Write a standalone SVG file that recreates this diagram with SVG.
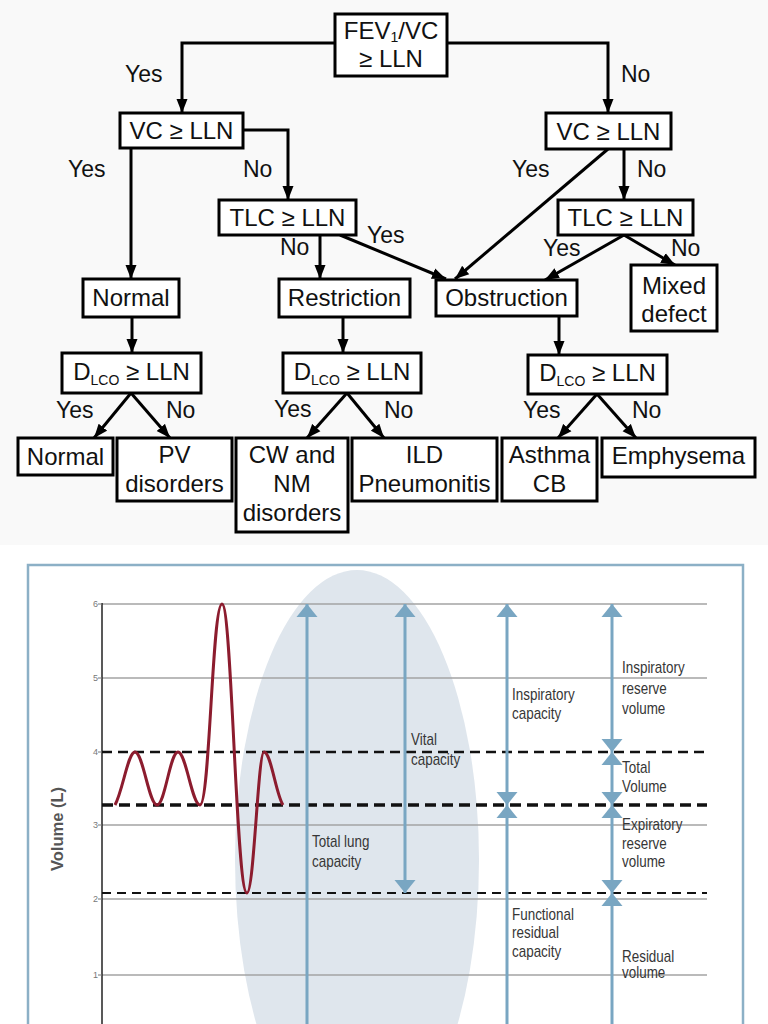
<svg xmlns="http://www.w3.org/2000/svg" width="768" height="1024" viewBox="0 0 768 1024">
<defs>
<marker id="ah" markerUnits="userSpaceOnUse" markerWidth="16" markerHeight="12" refX="14" refY="6" orient="auto">
<path d="M0,0.5 L14,6 L0,11.5 z" fill="#000"/>
</marker>
<marker id="ba" markerUnits="userSpaceOnUse" markerWidth="14" markerHeight="22" refX="13" refY="11" orient="auto-start-reverse">
<path d="M0,0.5 L13,11 L0,21.5 z" fill="#79a6c2"/>
</marker>
<style>
.box{fill:#fff;stroke:#000;stroke-width:3}
.t{font-family:"Liberation Sans",Arial,sans-serif;font-size:24px;fill:#111;text-anchor:middle}
.lb{font-family:"Liberation Sans",Arial,sans-serif;font-size:23px;fill:#111}
.sub{font-size:14px}
.cn{fill:none;stroke:#000;stroke-width:3;marker-end:url(#ah)}
.grid{stroke:#a3a3a3;stroke-width:1.6}
.dash{stroke:#111;fill:none}
.ba{stroke:#79a6c2;stroke-width:3;fill:none}
.cl{font-family:"Liberation Sans",Arial,sans-serif;font-size:16px;fill:#363636}
.tick{font-family:"Liberation Sans",Arial,sans-serif;font-size:9px;fill:#777;text-anchor:end}
</style>
</defs>
<rect x="0" y="0" width="768" height="1024" fill="#fff"/>
<rect x="0" y="0" width="768" height="545" fill="#f9f9f9"/>

<g id="connectors">
<path class="cn" d="M335,43 H182 V113"/>
<path class="cn" d="M447,43 H608 V113"/>
<path class="cn" d="M131,148 V279"/>
<path class="cn" d="M243,130 H288 V200"/>
<path class="cn" d="M320,235 V279"/>
<path class="cn" d="M340,235 L446,279"/>
<path class="cn" d="M608,149 L455,279"/>
<path class="cn" d="M624,149 V200"/>
<path class="cn" d="M624,235 L545,280"/>
<path class="cn" d="M624,235 L675,265"/>
<path class="cn" d="M132,317 V353"/>
<path class="cn" d="M343,317 V353"/>
<path class="cn" d="M559,316 V355"/>
<path class="cn" d="M131,393 L94,438"/>
<path class="cn" d="M131,393 L170,438"/>
<path class="cn" d="M347,393 L307,438"/>
<path class="cn" d="M347,393 L384,438"/>
<path class="cn" d="M597,394 L558,438"/>
<path class="cn" d="M597,394 L636,438"/>
</g>

<g id="labels">
<text class="lb" x="125" y="82">Yes</text>
<text class="lb" x="621" y="82">No</text>
<text class="lb" x="68" y="177">Yes</text>
<text class="lb" x="243" y="177">No</text>
<text class="lb" x="512" y="177">Yes</text>
<text class="lb" x="637" y="177">No</text>
<text class="lb" x="280" y="255">No</text>
<text class="lb" x="367" y="243">Yes</text>
<text class="lb" x="543" y="256">Yes</text>
<text class="lb" x="671" y="256">No</text>
<text class="lb" x="56" y="418">Yes</text>
<text class="lb" x="166" y="418">No</text>
<text class="lb" x="274" y="417">Yes</text>
<text class="lb" x="384" y="418">No</text>
<text class="lb" x="523" y="418">Yes</text>
<text class="lb" x="632" y="418">No</text>
</g>

<g id="n-fev"><rect class="box" x="335" y="14" width="112" height="62"/>
<text class="t" x="391" y="39">FEV<tspan class="sub" dy="3">1</tspan><tspan dy="-3">/VC</tspan></text>
<text class="t" x="391" y="67">≥ LLN</text></g>
<g id="n-vc1"><rect class="box" x="120" y="113" width="123" height="35"/><text class="t" x="181.5" y="139">VC ≥ LLN</text></g>
<g id="n-vc2"><rect class="box" x="546" y="113" width="125" height="36"/><text class="t" x="608.5" y="140">VC ≥ LLN</text></g>
<g id="n-tlc1"><rect class="box" x="219" y="200" width="137" height="35"/><text class="t" x="287.5" y="226">TLC ≥ LLN</text></g>
<g id="n-tlc2"><rect class="box" x="558" y="200" width="135" height="35"/><text class="t" x="625.5" y="226">TLC ≥ LLN</text></g>
<g id="n-normal1"><rect class="box" x="83" y="279" width="96" height="38"/><text class="t" x="131" y="306">Normal</text></g>
<g id="n-restriction"><rect class="box" x="279" y="279" width="131" height="38"/><text class="t" x="344.5" y="306">Restriction</text></g>
<g id="n-obstruction"><rect class="box" x="436" y="280" width="141" height="36"/><text class="t" x="506.5" y="306">Obstruction</text></g>
<g id="n-mixed"><rect class="box" x="631" y="265" width="86" height="66"/><text class="t" x="674" y="294">Mixed</text><text class="t" x="674" y="322">defect</text></g>
<g id="n-dlco1"><rect class="box" x="62" y="353" width="139" height="40"/><text class="t" x="131.5" y="380">D<tspan class="sub" dy="5">LCO</tspan><tspan dy="-5"> ≥ LLN</tspan></text></g>
<g id="n-dlco2"><rect class="box" x="283" y="353" width="138" height="40"/><text class="t" x="352" y="380">D<tspan class="sub" dy="5">LCO</tspan><tspan dy="-5"> ≥ LLN</tspan></text></g>
<g id="n-dlco3"><rect class="box" x="528" y="355" width="139" height="39"/><text class="t" x="597.5" y="381">D<tspan class="sub" dy="5">LCO</tspan><tspan dy="-5"> ≥ LLN</tspan></text></g>
<g id="n-normal2"><rect class="box" x="18" y="438" width="95" height="37"/><text class="t" x="65.5" y="465">Normal</text></g>
<g id="n-pv"><rect class="box" x="117" y="438" width="115" height="63"/><text class="t" x="174.5" y="463">PV</text><text class="t" x="174.5" y="492">disorders</text></g>
<g id="n-cw"><rect class="box" x="236" y="438" width="112" height="94"/><text class="t" x="292" y="463">CW and</text><text class="t" x="292" y="492">NM</text><text class="t" x="292" y="521">disorders</text></g>
<g id="n-ild"><rect class="box" x="352" y="438" width="145" height="63"/><text class="t" x="424.5" y="463">ILD</text><text class="t" x="424.5" y="492">Pneumonitis</text></g>
<g id="n-asthma"><rect class="box" x="502" y="438" width="95" height="63"/><text class="t" x="549.5" y="463">Asthma</text><text class="t" x="549.5" y="492">CB</text></g>
<g id="n-emphysema"><rect class="box" x="602" y="438" width="153" height="39"/><text class="t" x="678.5" y="464">Emphysema</text></g>

<g id="chart">
<ellipse cx="357" cy="860" rx="122" ry="290" fill="#dfe6ed"/>
<rect x="28" y="565" width="715" height="520" fill="none" stroke="#8cb0c6" stroke-width="2.5"/>
<g>
<line class="grid" x1="102" y1="604" x2="707" y2="604"/>
<line class="grid" x1="102" y1="678" x2="707" y2="678"/>
<line class="grid" x1="102" y1="825" x2="707" y2="825"/>
<line class="grid" x1="102" y1="899" x2="707" y2="899"/>
<line class="grid" x1="102" y1="975" x2="707" y2="975"/>
</g>
<line x1="102" y1="603" x2="102" y2="1030" stroke="#222" stroke-width="1.5"/>
<g stroke="#777" stroke-width="1">
<line x1="98" y1="604" x2="102" y2="604"/><line x1="98" y1="678" x2="102" y2="678"/><line x1="98" y1="752" x2="102" y2="752"/>
<line x1="98" y1="825" x2="102" y2="825"/><line x1="98" y1="899" x2="102" y2="899"/><line x1="98" y1="975" x2="102" y2="975"/>
</g>
<text class="tick" x="98" y="607">6</text>
<text class="tick" x="98" y="681">5</text>
<text class="tick" x="98" y="755">4</text>
<text class="tick" x="98" y="828">3</text>
<text class="tick" x="98" y="902">2</text>
<text class="tick" x="98" y="978">1</text>
<text x="63" y="829" transform="rotate(-90 63 829)" font-family="Liberation Sans, Arial, sans-serif" font-size="16.5" font-weight="bold" fill="#555" text-anchor="middle">Volume (L)</text>

<line class="dash" x1="102" y1="752" x2="707" y2="752" stroke-width="2.6" stroke-dasharray="10 6"/>
<line class="dash" x1="102" y1="805" x2="707" y2="805" stroke-width="3.4" stroke-dasharray="11 6"/>
<line class="dash" x1="102" y1="893" x2="707" y2="893" stroke-width="2" stroke-dasharray="9 6"/>

<path d="M115,805 C123,790 128,752 135,752 C143,752 149,805 157,805 C165,805 170,752 178,752 C186,752 192,805 200,805 C210,805 212,604 222,604 C232,604 236,893 247,893 C254,893 258,752 264,752 C271,752 276,795 283,805" fill="none" stroke="#8c1c2e" stroke-width="3"/>

<line class="ba" x1="307" y1="604" x2="307" y2="1040" marker-start="url(#ba)"/>
<line class="ba" x1="405" y1="604" x2="405" y2="893" marker-start="url(#ba)" marker-end="url(#ba)"/>
<line class="ba" x1="507" y1="604" x2="507" y2="805" marker-start="url(#ba)" marker-end="url(#ba)"/>
<line class="ba" x1="507" y1="805" x2="507" y2="1040" marker-start="url(#ba)"/>
<line class="ba" x1="612" y1="604" x2="612" y2="752" marker-start="url(#ba)" marker-end="url(#ba)"/>
<line class="ba" x1="612" y1="752" x2="612" y2="805" marker-start="url(#ba)" marker-end="url(#ba)"/>
<line class="ba" x1="612" y1="805" x2="612" y2="893" marker-start="url(#ba)" marker-end="url(#ba)"/>
<line class="ba" x1="612" y1="893" x2="612" y2="1040" marker-start="url(#ba)"/>

<text class="cl" transform="translate(312 847) scale(0.84 1)">Total lung</text>
<text class="cl" transform="translate(312 867) scale(0.84 1)">capacity</text>
<text class="cl" transform="translate(411 745) scale(0.84 1)">Vital</text>
<text class="cl" transform="translate(411 765) scale(0.84 1)">capacity</text>
<text class="cl" transform="translate(512 700) scale(0.84 1)">Inspiratory</text>
<text class="cl" transform="translate(512 719) scale(0.84 1)">capacity</text>
<text class="cl" transform="translate(622 673) scale(0.84 1)">Inspiratory</text>
<text class="cl" transform="translate(622 694) scale(0.84 1)">reserve</text>
<text class="cl" transform="translate(622 714) scale(0.84 1)">volume</text>
<text class="cl" transform="translate(622 773) scale(0.84 1)">Total</text>
<text class="cl" transform="translate(622 792) scale(0.84 1)">Volume</text>
<text class="cl" transform="translate(622 830) scale(0.84 1)">Expiratory</text>
<text class="cl" transform="translate(622 849) scale(0.84 1)">reserve</text>
<text class="cl" transform="translate(622 867) scale(0.84 1)">volume</text>
<text class="cl" transform="translate(512 920) scale(0.84 1)">Functional</text>
<text class="cl" transform="translate(512 938) scale(0.84 1)">residual</text>
<text class="cl" transform="translate(512 957) scale(0.84 1)">capacity</text>
<text class="cl" transform="translate(622 962) scale(0.84 1)">Residual</text>
<text class="cl" transform="translate(622 978) scale(0.84 1)">volume</text>
</g>
</svg>
